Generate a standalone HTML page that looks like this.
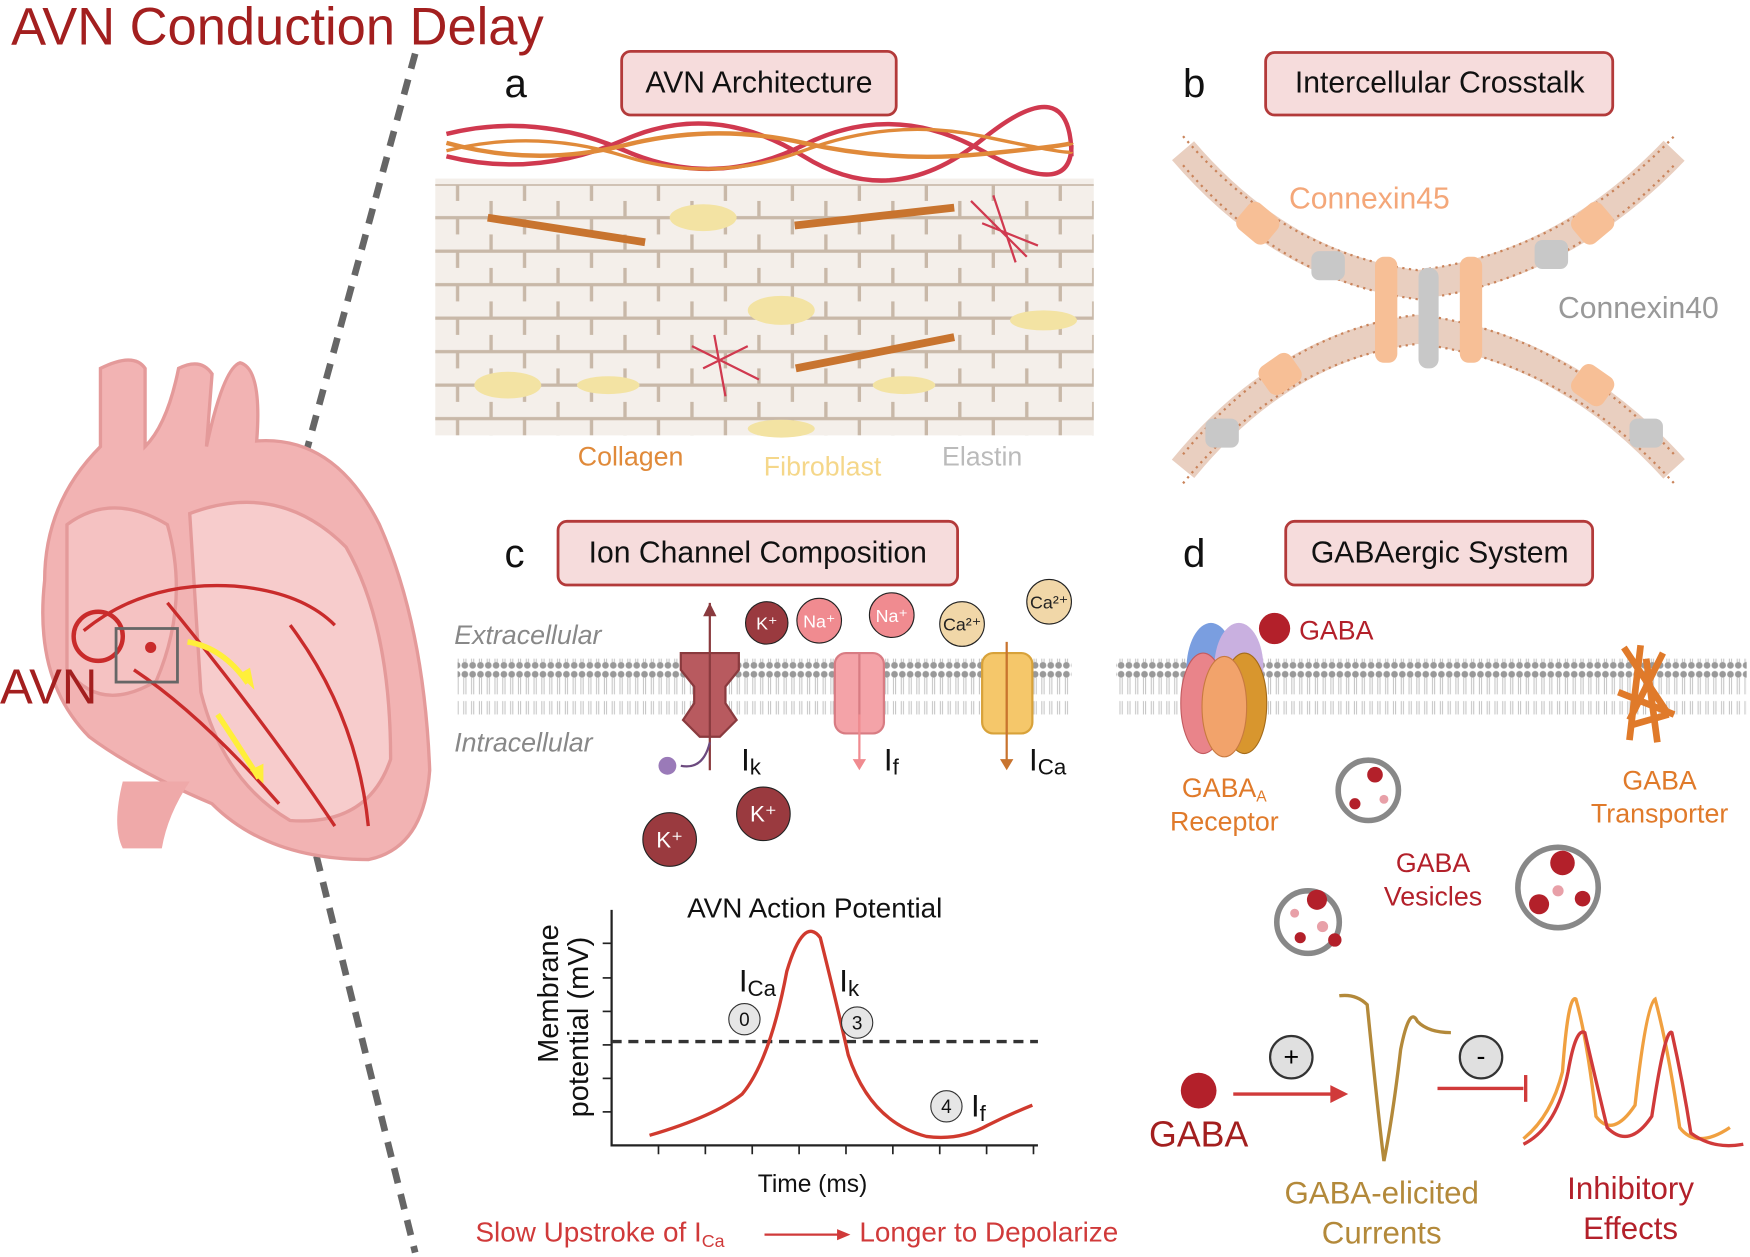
<!DOCTYPE html>
<html><head><meta charset="utf-8"><style>
html,body{margin:0;padding:0;background:#fff}
svg{display:block}
text{font-family:"Liberation Sans",sans-serif}
</style></head><body>
<svg width="1750" height="1257" viewBox="0 0 1568 1126" preserveAspectRatio="none" xmlns="http://www.w3.org/2000/svg">
<defs>
<pattern id="mem" width="7" height="50" patternUnits="userSpaceOnUse">
<circle cx="3.5" cy="4" r="3" fill="#999"/><circle cx="3.5" cy="46" r="3" fill="#999"/>
<line x1="2.5" y1="7" x2="2.5" y2="22" stroke="#bbb" stroke-width="0.8"/><line x1="4.5" y1="7" x2="4.5" y2="22" stroke="#bbb" stroke-width="0.8"/>
<line x1="2.5" y1="28" x2="2.5" y2="43" stroke="#bbb" stroke-width="0.8"/><line x1="4.5" y1="28" x2="4.5" y2="43" stroke="#bbb" stroke-width="0.8"/>
</pattern>
<pattern id="brick" width="60" height="30" patternUnits="userSpaceOnUse">
<path d="M0,15 H60 M20,0 V15 M50,15 V30" stroke="#c8b8a8" stroke-width="3" fill="none"/>
</pattern>
</defs>
<text x="10" y="40" font-size="47" fill="#a31f1f">AVN Conduction Delay</text>
<polyline points="372,48 232,560 372,1122" fill="none" stroke="#666" stroke-width="6" stroke-dasharray="14,10"/>
<!-- heart -->
<g>
<path d="M90,330 Q120,315 130,330 L130,400 Q150,380 160,330 Q180,320 190,335 L185,400 Q200,330 215,325 Q235,330 230,395 Q300,390 340,470 Q380,560 385,690 Q380,760 330,770 Q240,770 190,720 Q120,690 80,660 Q30,610 40,520 Q40,450 90,400 Z" fill="#f2b3b3" stroke="#e49a9a" stroke-width="3"/>
<path d="M110,700 Q100,740 110,760 L145,760 Q150,730 170,700 Z" fill="#efa9a9"/>
<path d="M170,460 Q250,430 310,490 Q350,560 350,680 Q330,740 260,735 Q200,700 180,620 Z" fill="#f7cccc" stroke="#e49a9a" stroke-width="3"/>
<path d="M60,470 Q100,440 150,470 Q170,540 140,610 Q90,640 60,600 Z" fill="#f5c2c2" stroke="#e49a9a" stroke-width="3"/>
<path d="M75,565 Q130,520 210,525 Q270,530 300,560 M120,600 Q180,640 250,720 M150,540 Q240,650 300,740 M260,560 Q320,640 330,740" fill="none" stroke="#c92b2b" stroke-width="3"/>
<circle cx="88" cy="570" r="22" fill="none" stroke="#c92b2b" stroke-width="4"/>
<circle cx="135" cy="580" r="5" fill="#c92b2b"/>
<rect x="104" y="563" width="55" height="48" fill="none" stroke="#666" stroke-width="2.5"/>
<path d="M168,575 Q200,580 222,612" fill="none" stroke="#ffef3a" stroke-width="5"/><polygon points="214,604 228,618 224,598" fill="#ffef3a"/>
<path d="M195,640 Q215,670 232,697" fill="none" stroke="#ffef3a" stroke-width="5"/><polygon points="224,690 236,702 236,684" fill="#ffef3a"/>
<text x="0" y="630" font-size="44" fill="#a31f1f">AVN</text>
</g>
<!-- a -->
<text x="452" y="87" font-size="36" fill="#111">a</text>
<rect x="557" y="46" width="246" height="57" rx="8" fill="#f6dcdc" stroke="#b33a3a" stroke-width="2.5"/>
<text x="680" y="83" font-size="27" text-anchor="middle" fill="#111">AVN Architecture</text>
<rect x="390" y="160" width="590" height="230" fill="#f4efea"/>
<rect x="390" y="165" width="590" height="225" fill="url(#brick)"/>
<path d="M400,120 Q480,100 560,135 T720,130 T880,135 T960,130" fill="none" stroke="#d0394f" stroke-width="4"/>
<path d="M400,140 Q480,160 560,125 T720,140 T880,125 T960,140" fill="none" stroke="#d0394f" stroke-width="4"/>
<path d="M400,128 Q480,150 560,130 T720,128 T880,138 T960,128" fill="none" stroke="#e08a3a" stroke-width="4"/>
<path d="M400,135 Q480,115 560,140 T720,135 T880,122 T960,136" fill="none" stroke="#e08a3a" stroke-width="3"/>
<g stroke="#c8742f" stroke-width="7"><line x1="437" y1="195" x2="578" y2="217"/><line x1="712" y1="202" x2="855" y2="186"/><line x1="713" y1="330" x2="855" y2="302"/></g>
<g fill="#f3e3a3"><ellipse cx="630" cy="195" rx="30" ry="12"/><ellipse cx="700" cy="278" rx="30" ry="13"/><ellipse cx="455" cy="345" rx="30" ry="12"/><ellipse cx="545" cy="345" rx="28" ry="8"/><ellipse cx="700" cy="384" rx="30" ry="8"/><ellipse cx="935" cy="287" rx="30" ry="9"/><ellipse cx="810" cy="345" rx="28" ry="8"/></g>
<g stroke="#d0394f" stroke-width="2" fill="none"><path d="M870,180 l50,50 M880,200 l50,20 M890,175 l20,60 M620,310 l60,30 M630,330 l40,-20 M640,300 l10,55"/></g>
<text x="565" y="417" font-size="24" fill="#e08a3a" text-anchor="middle">Collagen</text>
<text x="737" y="426" font-size="24" fill="#f5d78a" text-anchor="middle">Fibroblast</text>
<text x="880" y="417" font-size="24" fill="#bbb" text-anchor="middle">Elastin</text>
<!-- b -->
<text x="1060" y="87" font-size="36" fill="#111">b</text>
<rect x="1134" y="47" width="311" height="56" rx="8" fill="#f6dcdc" stroke="#b33a3a" stroke-width="2.5"/>
<text x="1290" y="83" font-size="27" text-anchor="middle" fill="#111">Intercellular Crosstalk</text>
<g fill="none" stroke-width="26">
<path d="M1060,135 Q1150,240 1270,255 Q1400,240 1500,135" stroke="#e9cfc0"/>
<path d="M1060,420 Q1150,310 1270,295 Q1400,310 1500,420" stroke="#e9cfc0"/>
</g>
<g fill="none" stroke="#c9835a" stroke-width="2" stroke-dasharray="2,4">
<path d="M1060,122 Q1150,227 1270,242 Q1400,227 1500,122"/><path d="M1060,148 Q1150,253 1270,268 Q1400,253 1500,148"/>
<path d="M1060,407 Q1150,297 1270,282 Q1400,297 1500,407"/><path d="M1060,433 Q1150,323 1270,308 Q1400,323 1500,433"/>
</g>
<g fill="#f7bf96"><rect x="1110" y="185" width="34" height="30" rx="8" transform="rotate(40 1127 200)"/><rect x="1410" y="185" width="34" height="30" rx="8" transform="rotate(-40 1427 200)"/><rect x="1130" y="320" width="34" height="30" rx="8" transform="rotate(-35 1147 335)"/><rect x="1410" y="330" width="34" height="30" rx="8" transform="rotate(35 1427 345)"/><rect x="1232" y="230" width="20" height="95" rx="8"/><rect x="1308" y="230" width="20" height="95" rx="8"/></g>
<g fill="#c8c8c8"><rect x="1175" y="225" width="30" height="26" rx="7"/><rect x="1375" y="215" width="30" height="26" rx="7"/><rect x="1080" y="375" width="30" height="26" rx="7"/><rect x="1460" y="375" width="30" height="26" rx="7"/><rect x="1271" y="240" width="18" height="90" rx="8"/></g>
<text x="1227" y="187" font-size="27" fill="#f4a779" text-anchor="middle">Connexin45</text>
<text x="1468" y="285" font-size="27" fill="#999" text-anchor="middle">Connexin40</text>
<!-- c -->
<text x="452" y="508" font-size="36" fill="#111">c</text>
<rect x="500" y="467" width="358" height="57" rx="8" fill="#f6dcdc" stroke="#b33a3a" stroke-width="2.5"/>
<text x="679" y="504" font-size="27" text-anchor="middle" fill="#111">Ion Channel Composition</text>
<rect x="410" y="590" width="550" height="50" fill="url(#mem)"/>
<text x="407" y="577" font-size="24" font-style="italic" fill="#888">Extracellular</text>
<text x="407" y="673" font-size="24" font-style="italic" fill="#888">Intracellular</text>
<path d="M610,585 H662 V600 L650,615 V630 L660,645 L645,660 H627 L612,645 L622,630 V615 L610,600 Z" fill="#b85a5f" stroke="#8a3a3e" stroke-width="2"/>
<line x1="636" y1="540" x2="636" y2="690" stroke="#8a3a3e" stroke-width="2"/><polygon points="630,552 636,540 642,552" fill="#8a3a3e"/>
<path d="M636,665 Q630,690 610,686" fill="none" stroke="#6c4a7f" stroke-width="2"/><circle cx="598" cy="686" r="8" fill="#9a7ab8"/>
<rect x="748" y="585" width="44" height="72" rx="10" fill="#f4a3a8" stroke="#d87c83" stroke-width="2"/><line x1="770" y1="585" x2="770" y2="657" stroke="#d87c83" stroke-width="2"/>
<line x1="770" y1="640" x2="770" y2="685" stroke="#f08b90" stroke-width="2"/><polygon points="764,680 770,690 776,680" fill="#f08b90"/>
<rect x="880" y="585" width="45" height="72" rx="10" fill="#f5c76a" stroke="#d8a23a" stroke-width="2"/><line x1="902" y1="585" x2="902" y2="657" stroke="#d8a23a" stroke-width="2"/>
<line x1="902" y1="575" x2="902" y2="685" stroke="#c8742f" stroke-width="2"/><polygon points="896,680 902,690 908,680" fill="#c8742f"/>
<g font-size="16" text-anchor="middle">
<circle cx="687" cy="558" r="19" fill="#9a3a3f" stroke="#222"/><text x="687" y="564" fill="#fff">K⁺</text>
<circle cx="734" cy="556" r="20" fill="#f08b90" stroke="#222"/><text x="734" y="562" fill="#fff">Na⁺</text>
<circle cx="799" cy="551" r="20" fill="#f08b90" stroke="#222"/><text x="799" y="557" fill="#fff">Na⁺</text>
<circle cx="862" cy="559" r="20" fill="#f1d7a8" stroke="#222"/><text x="862" y="565" fill="#222">Ca²⁺</text>
<circle cx="940" cy="539" r="20" fill="#f1d7a8" stroke="#222"/><text x="940" y="545" fill="#222">Ca²⁺</text>
<circle cx="684" cy="729" r="24" fill="#9a3a3f" stroke="#222"/><text x="684" y="736" fill="#fff" font-size="20">K⁺</text>
<circle cx="600" cy="752" r="24" fill="#9a3a3f" stroke="#222"/><text x="600" y="759" fill="#fff" font-size="20">K⁺</text>
</g>
<text x="664" y="690" font-size="28" fill="#111">I<tspan font-size="20" dy="4">k</tspan></text>
<text x="792" y="690" font-size="28" fill="#111">I<tspan font-size="20" dy="4">f</tspan></text>
<text x="922" y="690" font-size="28" fill="#111">I<tspan font-size="20" dy="4">Ca</tspan></text>
<text x="730" y="822" font-size="25" text-anchor="middle" fill="#111">AVN Action Potential</text>
<g stroke="#222" stroke-width="2"><line x1="548" y1="815" x2="548" y2="1027"/><line x1="548" y1="1026" x2="930" y2="1026"/></g>
<g stroke="#222" stroke-width="1.5">
<line x1="540" y1="845" x2="548" y2="845"/><line x1="540" y1="876" x2="548" y2="876"/><line x1="540" y1="906" x2="548" y2="906"/><line x1="540" y1="936" x2="548" y2="936"/><line x1="540" y1="966" x2="548" y2="966"/><line x1="540" y1="996" x2="548" y2="996"/>
<path d="M590,1026v8M632,1026v8M674,1026v8M716,1026v8M758,1026v8M800,1026v8M842,1026v8M884,1026v8M926,1026v8"/>
</g>
<line x1="548" y1="933" x2="930" y2="933" stroke="#333" stroke-width="3" stroke-dasharray="9,6"/>
<path d="M582,1017 Q640,1000 665,980 Q690,950 705,870 Q720,820 735,840 Q750,900 760,945 Q780,1005 830,1018 Q860,1022 885,1008 Q905,998 925,990" fill="none" stroke="#d03a2e" stroke-width="3"/>
<text x="530" y="920" font-size="26" text-anchor="middle" transform="rotate(-90 500 920)" fill="#111">Membrane</text>
<text x="527" y="920" font-size="26" text-anchor="middle" transform="rotate(-90 527 920)" fill="#111">potential (mV)</text>
<text x="728" y="1068" font-size="22" text-anchor="middle" fill="#111">Time (ms)</text>
<text x="662" y="888" font-size="28" fill="#111">I<tspan font-size="20" dy="4">Ca</tspan></text>
<text x="752" y="888" font-size="28" fill="#111">I<tspan font-size="20" dy="4">k</tspan></text>
<text x="870" y="1000" font-size="28" fill="#111">I<tspan font-size="20" dy="4">f</tspan></text>
<g font-size="17" text-anchor="middle" fill="#111"><circle cx="667" cy="913" r="14" fill="#e6e6e6" stroke="#333"/><text x="667" y="919">0</text>
<circle cx="768" cy="916" r="14" fill="#e6e6e6" stroke="#333"/><text x="768" y="922">3</text>
<circle cx="848" cy="991" r="14" fill="#e6e6e6" stroke="#333"/><text x="848" y="997">4</text></g>
<text x="426" y="1112" font-size="25" fill="#d03a3a">Slow Upstroke of I<tspan font-size="16" dy="5">Ca</tspan></text>
<line x1="685" y1="1106" x2="755" y2="1106" stroke="#d03a3a" stroke-width="2"/><polygon points="750,1101 762,1106 750,1111" fill="#d03a3a"/>
<text x="770" y="1112" font-size="25" fill="#d03a3a">Longer to Depolarize</text>
<!-- d -->
<text x="1060" y="508" font-size="36" fill="#111">d</text>
<rect x="1152" y="467" width="275" height="57" rx="8" fill="#f6dcdc" stroke="#b33a3a" stroke-width="2.5"/>
<text x="1290" y="504" font-size="27" text-anchor="middle" fill="#111">GABAergic System</text>
<rect x="1000" y="590" width="565" height="50" fill="url(#mem)"/>
<ellipse cx="1085" cy="600" rx="22" ry="42" fill="#7a9ee0"/><ellipse cx="1110" cy="598" rx="22" ry="40" fill="#c9b0e0"/>
<ellipse cx="1078" cy="630" rx="20" ry="45" fill="#e9848a" stroke="#c25a5f"/><ellipse cx="1115" cy="630" rx="20" ry="45" fill="#d8962e" stroke="#a36b1a"/><ellipse cx="1097" cy="633" rx="20" ry="45" fill="#f2a36b" stroke="#c87a40"/>
<circle cx="1142" cy="563" r="14" fill="#b3202a"/>
<text x="1164" y="573" font-size="24" fill="#b3202a">GABA</text>
<g stroke="#e07a2a" stroke-width="6" fill="none"><path d="M1455,580 l40,60 M1470,578 l-10,85 M1490,585 l-30,60 M1450,620 l50,20 M1460,650 l35,-10 M1475,590 l10,75"/></g>
<text x="1097" y="714" font-size="24" fill="#e07a2a" text-anchor="middle">GABA<tspan font-size="14" dy="4">A</tspan></text>
<text x="1097" y="744" font-size="24" fill="#e07a2a" text-anchor="middle">Receptor</text>
<text x="1487" y="707" font-size="24" fill="#e07a2a" text-anchor="middle">GABA</text>
<text x="1487" y="737" font-size="24" fill="#e07a2a" text-anchor="middle">Transporter</text>
<g fill="#fff" stroke="#888" stroke-width="5"><circle cx="1226" cy="708" r="27"/><circle cx="1172" cy="826" r="28"/><circle cx="1396" cy="795" r="36"/></g>
<g fill="#b3202a"><circle cx="1232" cy="694" r="7"/><circle cx="1214" cy="720" r="5"/><circle cx="1180" cy="806" r="9"/><circle cx="1196" cy="842" r="6"/><circle cx="1165" cy="840" r="5"/><circle cx="1400" cy="773" r="11"/><circle cx="1379" cy="810" r="9"/><circle cx="1418" cy="805" r="7"/></g>
<g fill="#e8a0a8"><circle cx="1240" cy="716" r="4"/><circle cx="1160" cy="818" r="4"/><circle cx="1185" cy="830" r="5"/><circle cx="1396" cy="798" r="5"/></g>
<text x="1284" y="781" font-size="24" fill="#b3202a" text-anchor="middle">GABA</text>
<text x="1284" y="811" font-size="24" fill="#b3202a" text-anchor="middle">Vesicles</text>
<circle cx="1074" cy="977" r="16" fill="#b3202a"/>
<text x="1074" y="1027" font-size="32" fill="#a31f1f" text-anchor="middle">GABA</text>
<circle cx="1157" cy="947" r="19" fill="#e0e0e0" stroke="#333" stroke-width="2"/><text x="1157" y="955" font-size="24" text-anchor="middle">+</text>
<line x1="1105" y1="980" x2="1195" y2="980" stroke="#d03a3a" stroke-width="3"/><polygon points="1192,972 1208,980 1192,988" fill="#d03a3a"/>
<path d="M1200,892 Q1215,890 1225,900 Q1235,1000 1240,1040 Q1248,1000 1255,940 Q1263,900 1270,915 Q1280,925 1300,925" fill="none" stroke="#b3893a" stroke-width="3"/>
<circle cx="1327" cy="947" r="19" fill="#e0e0e0" stroke="#333" stroke-width="2"/><text x="1327" y="954" font-size="24" text-anchor="middle">-</text>
<line x1="1288" y1="975" x2="1365" y2="975" stroke="#d03a3a" stroke-width="3"/><line x1="1367" y1="963" x2="1367" y2="987" stroke="#d03a3a" stroke-width="3"/>
<path d="M1365,1020 Q1390,1000 1400,960 Q1405,890 1412,895 Q1422,930 1430,1000 Q1445,1020 1465,990 Q1475,900 1483,895 Q1495,940 1505,1010 Q1520,1030 1550,1010" fill="none" stroke="#f0a040" stroke-width="3"/>
<path d="M1365,1025 Q1395,1010 1405,960 Q1412,920 1420,925 Q1428,960 1440,1010 Q1460,1030 1480,1000 Q1492,920 1498,925 Q1508,970 1515,1015 Q1535,1030 1562,1025" fill="none" stroke="#d03a3a" stroke-width="3"/>
<text x="1238" y="1078" font-size="28" fill="#b3893a" text-anchor="middle">GABA-elicited</text>
<text x="1238" y="1114" font-size="28" fill="#b3893a" text-anchor="middle">Currents</text>
<text x="1461" y="1074" font-size="28" fill="#b3202a" text-anchor="middle">Inhibitory</text>
<text x="1461" y="1110" font-size="28" fill="#b3202a" text-anchor="middle">Effects</text>
</svg>
</body></html>
